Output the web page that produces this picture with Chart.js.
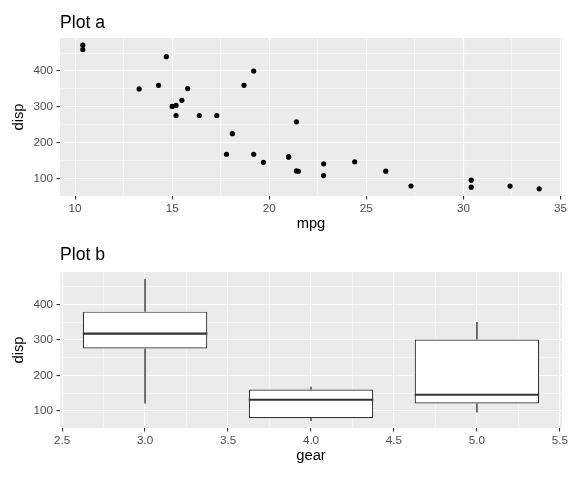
<!DOCTYPE html>
<html><head><meta charset="utf-8">
<script src="https://cdn.jsdelivr.net/npm/chart.js@4.4.1/dist/chart.umd.min.js"></script>
<style>
html,body{margin:0;padding:0;background:#fff;width:576px;height:480px;overflow:hidden}
.wrap{position:absolute;left:0;width:576px;height:240px}
</style></head><body>
<div class="wrap" style="top:0"><canvas id="a"></canvas></div>
<div class="wrap" style="top:240px"><canvas id="b"></canvas></div>
<script>
// ---- Plot a data (mpg vs disp) ----
const mpg  = [21.0,21.0,22.8,21.4,18.7,18.1,14.3,24.4,22.8,19.2,17.8,16.4,17.3,15.2,10.4,10.4,14.7,32.4,30.4,33.9,21.5,15.5,15.2,13.3,19.2,27.3,26.0,30.4,15.8,19.7,15.0,21.4];
const disp = [160,160,108,258,360,225,360,146.7,140.8,167.6,167.6,275.8,275.8,275.8,472,460,440,78.7,75.7,71.1,120.1,318,304,350,400,79,120.3,95.1,351,145,301,121];
const xTicksA = [10,12.5,15,17.5,20,22.5,25,27.5,30,32.5,35];
const xLabelsA = [10,15,20,25,30,35];
const yTicks = [100,150,200,250,300,350,400,450];
const yLabels = [100,200,300,400];

// ---- Plot b data (gear vs disp box summaries) ----
const gears   = [3,4,5];
const boxMin  = [120.1,71.1,95.1];
const boxQ1   = [275.8,78.9,120.3];
const boxMed  = [318,130.9,145];
const boxQ3   = [380,160,301];
const boxMax  = [472,167.6,351];
const xTicksB = [2.5,2.75,3,3.25,3.5,3.75,4,4.25,4.5,4.75,5,5.25,5.5];
const xLabelsB = [2.5,3,3.5,4,4.5,5,5.5];
const boxHalfWidth = 0.375;

const FONT = "'Liberation Sans', Arial, sans-serif";
Chart.defaults.font.family = FONT;

const panelBg = {id:'panelBg', beforeDraw(chart){
  const {ctx, chartArea:{left,top,width,height}} = chart;
  ctx.save(); ctx.fillStyle = '#EBEBEB'; ctx.fillRect(left,top,width,height); ctx.restore();
}};

function isIn(arr, v){ return arr.some(a => Math.abs(a - v) < 1e-9); }

function axis(min, max, tickVals, labelVals, fmt, title, fit, titlePad, horizontal){
  return {
    type:'linear', min, max, offset:false,
    afterBuildTicks: s => { s.ticks = tickVals.map(v => ({value:v})); },
    afterFit: s => { if (horizontal) s.height = fit; else s.width = fit; },
    grid:{
      offset:false,
      color:'#FFFFFF',
      lineWidth: c => (c.tick && isIn(labelVals, c.tick.value)) ? 1.1 : 0.55,
      tickColor: c => (c.tick && isIn(labelVals, c.tick.value)) ? '#333333' : 'rgba(0,0,0,0)',
      tickWidth: 1.1,
      tickLength: 3.5,
      drawTicks: true
    },
    border:{display:false},
    ticks:{
      autoSkip:false, maxRotation:0, minRotation:0,
      padding: horizontal ? 2.5 : 3.5,
      color:'#4D4D4D', font:{size:11.7, family:FONT},
      callback: v => isIn(labelVals, v) ? fmt(v) : ''
    },
    title:{display:true, text:title, color:'#000000', font:{size:14.7, family:FONT}, padding:titlePad}
  };
}

// ---- Chart a ----
new Chart(document.getElementById('a'), {
  type:'scatter',
  data:{datasets:[{
    data: mpg.map((m,i) => ({x:m, y:disp[i]})),
    backgroundColor:'#000000', borderWidth:0, pointRadius:2.6, pointHoverRadius:2.6
  }]},
  options:{
    responsive:true, maintainAspectRatio:false, animation:false, events:[],
    layout:{padding:{left:0, right:14, top:0, bottom:0}},
    plugins:{
      legend:{display:false}, tooltip:{enabled:false},
      title:{display:true, text:'Plot a', align:'start', fullSize:false, color:'#000000',
        font:{size:17.6, weight:'normal', family:FONT}, padding:{top:12.5, bottom:4.4}}
    },
    scales:{
      x: axis(9.225, 35.075, xTicksA, xLabelsA, v => String(v), 'mpg', 44, {top:0,bottom:7}, true),
      y: axis(51.05, 492.05, yTicks, yLabels, v => String(v), 'disp', 60, {top:10,bottom:0}, false)
    }
  },
  plugins:[panelBg]
});

// ---- Chart b ----
const medianLine = [];
gears.forEach((g,i) => {
  medianLine.push({x:g - boxHalfWidth, y:boxMed[i]});
  medianLine.push({x:g + boxHalfWidth, y:boxMed[i]});
  medianLine.push({x:g + 0.5, y:null});
});

// Bar width = (smallest tick spacing, 0.25 gear units) x ratio 3 = 0.75 gear units
new Chart(document.getElementById('b'), {
  type:'bar',
  data:{datasets:[
    {type:'line', data:medianLine, borderColor:'#333333', borderWidth:2.2, pointRadius:0, spanGaps:false, tension:0},
    {data: gears.map((g,i) => ({x:g, y:[boxQ1[i], boxQ3[i]]})), backgroundColor:'#FFFFFF', borderColor:'#333333', borderWidth:1.2, borderSkipped:false,
      grouped:false, barPercentage:3, categoryPercentage:1},
    {data: gears.map((g,i) => ({x:g, y:[boxMin[i], boxQ1[i]]})), backgroundColor:'#333333', borderWidth:0,
      grouped:false, barPercentage:3, categoryPercentage:1, maxBarThickness:1.4},
    {data: gears.map((g,i) => ({x:g, y:[boxQ3[i], boxMax[i]]})), backgroundColor:'#333333', borderWidth:0,
      grouped:false, barPercentage:3, categoryPercentage:1, maxBarThickness:1.4}
  ]},
  options:{
    responsive:true, maintainAspectRatio:false, animation:false, events:[],
    layout:{padding:{left:0, right:14, top:0, bottom:0}},
    plugins:{
      legend:{display:false}, tooltip:{enabled:false},
      title:{display:true, text:'Plot b', align:'start', fullSize:false, color:'#000000',
        font:{size:17.6, weight:'normal', family:FONT}, padding:{top:5, bottom:5.9}}
    },
    scales:{
      x: axis(2.4875, 5.5125, xTicksB, xLabelsB, v => v.toFixed(1), 'gear', 52, {top:0,bottom:15}, true),
      y: axis(51.05, 492.05, yTicks, yLabels, v => String(v), 'disp', 60, {top:10,bottom:0}, false)
    }
  },
  plugins:[panelBg]
});
</script>
</body></html>
